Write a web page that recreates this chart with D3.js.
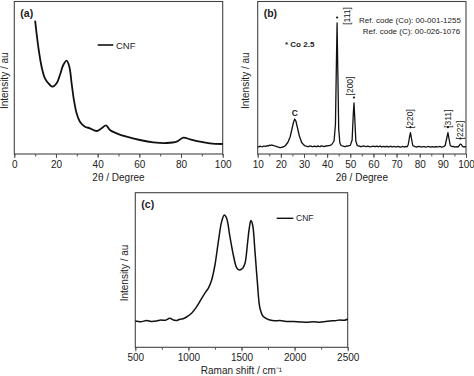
<!DOCTYPE html>
<html><head><meta charset="utf-8">
<script src="https://cdn.jsdelivr.net/npm/d3@7"></script>
<style>
body{margin:0;background:#fff;}
svg{display:block;font-family:"Liberation Sans",Arial,sans-serif;}
</style></head>
<body><svg id="c" width="474" height="376"></svg>
<script>
// Panel (a): XRD of CNF
const xrdA_theta = [10,11.5,13.1,14.7,17.1,18.4,20.3,21.9,23.5,25.1,26.4,27.5,28.6,29.9,31.5,33.9,36.3,39.5,41.9,44.0,45.9,49.1,53.9,60.3,66.7,73.1,77.9,81.1,84.3,89.1,93.9,100];
const xrdA_int   = [133.3,107.3,87.3,75.7,69,67.3,70.7,79,89,93.3,87.3,70.7,54,40.7,32.3,27.3,25.7,23,25.7,28.7,24,20.7,17.3,14,11.7,11,12.3,16.3,14.7,12.3,10.7,10];

// Panel (b): XRD of Co 2.5
const xrdB_theta = [10,10.5,11,11.5,12,12.5,13,13.5,14,14.5,15,15.5,16,16.5,17,17.5,18,18.5,19,19.5,20,20.5,21,21.5,22,23,24,25,25.5,26,26.5,27,28,29,30,30.5,31,31.5,32,32.5,33,33.5,34,34.5,35,35.5,36,36.5,37,37.5,38,38.5,39,39.5,40,40.5,41,41.5,42,43,43.6,44,44.3,44.6,45,45.5,46,46.5,47,47.5,48,48.5,49,49.5,50,50.8,51.3,51.6,51.9,52.4,53,53.5,54,54.5,55,55.5,56,56.5,57,57.5,58,58.5,59,59.5,60,60.5,61,61.5,62,62.5,63,63.5,64,64.5,65,65.5,66,66.5,67,67.5,68,68.5,69,69.5,70,70.5,71,71.5,72,72.5,73,73.5,74,74.5,75,75.6,76,76.4,77,77.5,78,78.5,79,79.5,80,80.5,81,81.5,82,82.5,83,83.5,84,84.5,85,85.5,86,86.5,87,87.5,88,88.5,89,89.5,90,90.5,91,91.8,92.2,92.6,93.2,94,94.5,95,95.5,96,96.5,97,97.5,98,98.5,99,99.5,100];
const xrdB_int   = [7.5,7.1,7.8,7.4,7.2,7.9,7.9,7.5,8.3,8.0,8.8,8.5,9.0,8.7,8.4,8.0,7.6,7.2,6.8,6.5,6.4,6.9,7.0,7.6,8.5,11.5,17,27,32,35,33,28,18,11.5,8.8,8.2,7.8,7.4,7.4,8.0,7.9,7.3,7.3,7.8,7.6,7.2,8.2,7.7,7.4,8.1,7.9,7.5,7.6,8.2,8.0,8.4,8.4,8.9,9.5,13,30,90,131,85,25,11,8.5,8.1,7.8,7.4,7.5,8.1,7.9,8.3,8.6,14,40,51,38,13,8.5,8.0,7.8,7.3,7.5,8.0,8.0,7.6,7.4,7.9,7.7,7.2,7.3,7.7,7.8,7.3,7.5,7.9,7.2,7.6,7.9,7.1,7.4,7.7,7.1,7.5,7.6,7.0,7.3,7.8,7.0,7.4,7.5,7.1,7.2,7.6,7.4,6.9,7.0,7.5,7.3,7.0,7.6,7.2,9,17,21.3,16,8.5,7.8,7.4,7.0,7.1,7.6,7.5,7.1,7.0,7.4,7.3,6.9,7.1,7.5,7.4,7.0,7.0,7.4,7.2,6.9,7.5,7.2,7.1,7.5,7.3,6.9,7.2,7.6,8.5,17,21.3,16,8.5,7.3,7.6,7.0,7.2,7.4,7.0,8.2,10,9.5,7.5,7.2,7.4,7.0];
const peakLabels = ["[111]","[200]","[220]","[311]","[222]"];
const peakTheta  = [44.3,51.6,76,92.2,97.6];
const peakTop    = [131,51,21.3,21.3,10];

// Panel (c): Raman of CNF
const raman_shift = [500,550,607,650,700,740,780,826,858,890,920,950,983,1030,1078,1125,1165,1187,1219,1250,1282,1313,1338,1360,1391,1423,1454,1479,1511,1533,1555,1573,1589,1605,1627,1649,1674,1705,1740,1768,1810,1862,1920,1988,2050,2113,2180,2239,2290,2333,2380,2427,2470,2500];
const raman_int   = [26.3,25.6,26.7,25.9,26.3,27.2,27,29,27.3,26.9,28,28.6,30.3,34,40.7,49,55.7,59,67.3,82.3,105.7,125.7,132.3,129,110.7,92.3,79.7,77.3,79,84,102.3,119,126.7,122.3,95.7,65.7,39,30.7,28.4,27.3,26.5,26.7,25.9,25.7,25.4,25,25.6,25,25.8,26.3,26.6,27.3,27.0,28.3];

const ticksA = [0,20,40,60,80,100];
const ticksB = [10,20,30,40,50,60,70,80,90,100];
const ticksC = [500,1000,1500,2000,2500];

const svg = d3.select("#c");
const axisCol = "#444", textCol = "#222";

function panel(o){
  const g = svg.append("g");
  const x = d3.scaleLinear().domain(o.xd).range([o.x0,o.x1]);
  const y = d3.scaleLinear().domain(o.yd).range([o.y1,o.y0]);
  const ax = d3.axisBottom(x).tickValues(o.minor).tickSize(2.5).tickFormat("");
  const gm = g.append("g").attr("transform",`translate(0,${o.y1})`).call(ax);
  const axM = d3.axisBottom(x).tickValues(o.major).tickSize(4).tickPadding(2.5).tickFormat(d3.format("d"));
  const gM = g.append("g").attr("transform",`translate(0,${o.y1})`).call(axM);
  [gm,gM].forEach(s=>{s.select(".domain").remove(); s.selectAll("line").attr("stroke",axisCol).attr("stroke-width",0.9);});
  gM.selectAll("text").attr("font-size",10).attr("fill",textCol).attr("font-family","Liberation Sans, Arial, sans-serif");
  g.append("rect").attr("x",o.x0).attr("y",o.y0).attr("width",o.x1-o.x0).attr("height",o.y1-o.y0)
    .attr("fill","none").attr("stroke",axisCol).attr("stroke-width",1.1);
  g.append("path").datum(o.xs.map((v,i)=>[v,o.ys[i]]))
    .attr("d",d3.line().x(d=>x(d[0])).y(d=>y(d[1])).curve(o.curve||d3.curveCatmullRom.alpha(0.5)))
    .attr("fill","none").attr("stroke","#111").attr("stroke-width",o.sw||1.6).attr("stroke-linejoin","round");
  g.append("text").attr("x",o.x0+6).attr("y",o.y0+15).text(o.tag).attr("font-size",10.5).attr("font-weight","bold").attr("fill",textCol);
  g.append("text").attr("x",(o.x0+o.x1)/2).attr("y",o.y1+27).attr("text-anchor","middle").attr("font-size",10).attr("fill",textCol).text(o.xt);
  g.append("text").attr("transform",`translate(${o.yx},${(o.y0+o.y1)/2+3}) rotate(-90)`).attr("text-anchor","middle").attr("font-size",10).attr("fill",textCol).text("Intensity / au");
  return {g,x,y};
}

// (a)
const A = panel({xd:[0,100],yd:[0,152.5],x0:14.3,x1:222.7,y0:1.5,y1:154,major:ticksA,minor:d3.range(0,101,10),
  xs:xrdA_theta,ys:xrdA_int,tag:"(a)",xt:"2θ / Degree",yx:8,sw:1.8});
A.g.append("line").attr("x1",97.7).attr("x2",113.3).attr("y1",45).attr("y2",45).attr("stroke","#111").attr("stroke-width",1.6);
A.g.append("text").attr("x",116).attr("y",48.5).attr("font-size",9.5).attr("fill",textCol).text("CNF");

// (b)
const B = panel({xd:[10,100],yd:[0,152.5],x0:257.7,x1:466,y0:1.5,y1:154,major:ticksB,minor:d3.range(10,101,5),
  xs:xrdB_theta,ys:xrdB_int,tag:"(b)",xt:"2θ / Degree",yx:249,sw:1.3,curve:d3.curveLinear});
const dxLab = [10,-3.5,0,0,0], dyLab=[-7,-17,-14,-14,-14];
peakLabels.forEach((lab,i)=>{
  const px = B.x(peakTheta[i]), py = B.y(peakTop[i]);
  B.g.append("circle").attr("cx",px).attr("cy",py-5.5).attr("r",1.1).attr("fill","#111");
  B.g.append("text").attr("transform",`translate(${px+dxLab[i]+3},${py+dyLab[i]}) rotate(-90)`)
    .attr("text-anchor","middle").attr("font-size",8.5).attr("fill",textCol).text(lab);
});
B.g.append("text").attr("x",B.x(26)).attr("y",B.y(35)-3).attr("text-anchor","middle").attr("font-size",8.5).attr("font-weight","bold").attr("fill",textCol).text("C");
B.g.append("text").attr("x",285).attr("y",47).attr("font-size",8).attr("font-weight","bold").attr("fill",textCol).text("* Co 2.5");
B.g.append("text").attr("x",410).attr("y",23).attr("text-anchor","middle").attr("font-size",8).attr("fill",textCol).text("Ref. code (Co): 00-001-1255");
B.g.append("text").attr("x",411.5).attr("y",33.5).attr("text-anchor","middle").attr("font-size",8).attr("fill",textCol).text("Ref. code (C): 00-026-1076");

// (c)
const C = panel({xd:[500,2500],yd:[0,154.6],x0:135.3,x1:347.7,y0:192.7,y1:347.3,major:ticksC,minor:d3.range(500,2501,250),
  xs:raman_shift,ys:raman_int,tag:"(c)",xt:"Raman shift / cm⁻¹",yx:128,sw:1.5});
C.g.append("line").attr("x1",276.7).attr("x2",293.3).attr("y1",218.3).attr("y2",218.3).attr("stroke","#111").attr("stroke-width",1.4);
C.g.append("text").attr("x",296).attr("y",221.3).attr("font-size",8.5).attr("fill",textCol).text("CNF");
</script></body></html>
